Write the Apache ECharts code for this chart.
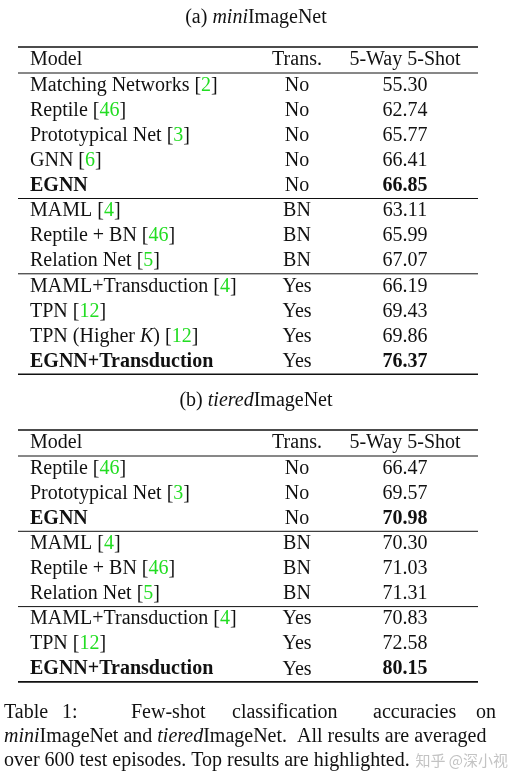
<!DOCTYPE html>
<html><head><meta charset="utf-8">
<script src="https://cdn.jsdelivr.net/npm/echarts@6/dist/echarts.min.js"></script>
<style>html,body{margin:0;padding:0;background:#fff}#c{width:512px;height:776px}</style>
</head><body><div id="c"></div>
<script>
const headers = ["Model", "Trans.", "5-Way 5-Shot"];
const miniModels = [["Matching Networks ","2"],["Reptile ","46"],["Prototypical Net ","3"],["GNN ","6"],["EGNN","",1],
  ["MAML ","4"],["Reptile + BN ","46"],["Relation Net ","5"],
  ["MAML+Transduction ","4"],["TPN ","12"],["TPN (Higher K) ","12"],["EGNN+Transduction","",1]];
const miniTrans = ["No","No","No","No","No","BN","BN","BN","Yes","Yes","Yes","Yes"];
const miniAcc = ["55.30","62.74","65.77","66.41","66.85","63.11","65.99","67.07","66.19","69.43","69.86","76.37"];
const miniGroups = [5,3,4];
const tieredModels = [["Reptile ","46"],["Prototypical Net ","3"],["EGNN","",1],
  ["MAML ","4"],["Reptile + BN ","46"],["Relation Net ","5"],
  ["MAML+Transduction ","4"],["TPN ","12"],["EGNN+Transduction","",1]];
const tieredTrans = ["No","No","No","BN","BN","BN","Yes","Yes","Yes"];
const tieredAcc = ["66.47","69.57","70.98","70.30","71.03","71.31","70.83","72.58","80.15"];
const tieredGroups = [3,3,3];

const F = '"Liberation Serif","DejaVu Serif",serif';
const FS = 20, RH = 25.1, X0 = 18, X1 = 478, XM = 30, XT = 297, XA = 405;
const G = [];
const rich = {
  n:{fontFamily:F,fontSize:FS,fill:'#111'},
  b:{fontFamily:F,fontSize:FS,fontWeight:'bold',fill:'#111'},
  i:{fontFamily:F,fontSize:FS,fontStyle:'italic',fill:'#111'},
  g:{fontFamily:F,fontSize:FS,fill:'#22dd22'}
};
function txt(x,y,s,align,bold){G.push({type:'text',style:{x,y,text:s,font:(bold?'bold ':'')+FS+'px '+F,fill:'#111',textAlign:align||'left',textVerticalAlign:'middle'}});}
function rtxt(x,y,s,align){G.push({type:'text',style:{x,y,text:s,rich,textAlign:align||'left',textVerticalAlign:'middle'}});}
function line(y,w){G.push({type:'line',shape:{x1:X0,y1:y,x2:X1,y2:y},style:{stroke:'#111',lineWidth:w}});}
function modelRich(m){
  if(m[2]) return '{b|'+m[0]+'}';
  let name = m[0].replace('K','}{i|K}{n|');
  return '{n|'+name+'}{n|[}{g|'+m[1]+'}{n|]}';
}
function table(capY, capRich, models, trans, acc, groups){
  rtxt(256,capY,capRich,'center');
  const top = capY+29;
  line(top,1.6);
  txt(XM,top+13,headers[0]); txt(XT,top+13,headers[1],'center'); txt(XA,top+13,headers[2],'center');
  let y = top+26; line(y,1);
  let k=0;
  groups.forEach((g,gi)=>{
    for(let j=0;j<g;j++,k++){
      const cy = y+12.5+j*RH;
      rtxt(XM,cy,modelRich(models[k]));
      txt(XT,cy,trans[k],'center');
      txt(XA,cy,acc[k],'center',!!models[k][2]);
    }
    y += g*RH;
    line(y, gi===groups.length-1?1.6:1);
  });
}
table(18,'{n|(a) }{i|mini}{n|ImageNet}',miniModels,miniTrans,miniAcc,miniGroups);
table(401,'{n|(b) }{i|tiered}{n|ImageNet}',tieredModels,tieredTrans,tieredAcc,tieredGroups);
const c1 = [["Table",4],["1:",62],["Few-shot",131],["classification",232],["accuracies",373],["on",476]];
c1.forEach(w=>txt(w[1],713,w[0]));
rtxt(4,737,'{i|mini}{n|ImageNet and }{i|tiered}{n|ImageNet.  All results are averaged}');
txt(4,761,'over 600 test episodes. Top results are highlighted.');
G.push({type:'text',style:{x:508,y:760,text:'知乎 @深小视',font:'15px "Noto Sans CJK SC"',fill:'rgba(180,180,180,0.8)',textAlign:'right',textVerticalAlign:'middle'}});
const chart = echarts.init(document.getElementById('c'));
chart.setOption({backgroundColor:'#fff',graphic:G});
</script></body></html>
